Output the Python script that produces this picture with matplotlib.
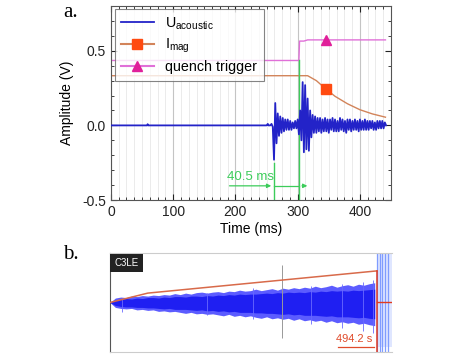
import matplotlib
matplotlib.use("Agg")
import matplotlib.pyplot as plt
from matplotlib.ticker import MultipleLocator
import numpy as np

plt.rcParams['font.family'] = ['Liberation Sans', 'DejaVu Sans']
plt.rcParams['mathtext.fontset'] = 'custom'
plt.rcParams['mathtext.rm'] = 'Liberation Sans'
plt.rcParams['mathtext.it'] = 'Liberation Sans'

''' panel a data '''
t_quiet = [0, 58, 59, 60, 250, 252, 253, 254]
u_quiet = [0.0, 0.0, 0.008, 0.0, 0.0, 0.01, 0.0, 0.0]
t_burst = np.arange(256, 444, 2)
u_burst = [0.0, 0.01, -0.01, -0.23, 0.15, -0.12, 0.08, -0.07, 0.06, -0.05,
           0.05, -0.04, 0.04, -0.03, 0.04, -0.03, 0.03, -0.03, 0.02, -0.02,
           0.03, -0.02, 0.04, -0.06, 0.10, -0.10, 0.29, -0.18, 0.27, -0.16,
           0.18, -0.17, 0.10, -0.08, 0.07, -0.05, 0.06, -0.05, 0.05, -0.04,
           0.05, -0.05, 0.04, -0.04, 0.05, -0.04, 0.04, -0.05, 0.04, -0.03,
           0.05, -0.04, 0.04, -0.04, 0.03, -0.04, 0.05, -0.03, 0.04, -0.04,
           0.03, -0.05, 0.04, -0.03, 0.04, -0.04, 0.03, -0.03, 0.04, -0.03,
           0.03, -0.04, 0.04, -0.03, 0.03, -0.03, 0.04, -0.03, 0.03, -0.03,
           0.03, -0.02, 0.03, -0.03, 0.02, -0.03, 0.03, -0.02, 0.03, -0.02,
           0.03, -0.02, 0.02, 0.0]
t_acoustic = np.concatenate([t_quiet, t_burst])
u_acoustic = np.concatenate([u_quiet, u_burst])

# magnet current (scaled)
t_mag = [0, 316, 330, 345, 360, 380, 400, 420, 441]
i_mag = [0.333, 0.333, 0.30, 0.245, 0.195, 0.145, 0.105, 0.077, 0.055]

# quench trigger
t_trig = [0, 302, 303, 310, 316, 441]
v_trig = [0.435, 0.435, 0.565, 0.565, 0.573, 0.573]

marker_t = 345
t_det, t_trg = 262, 302.5       # 40.5 ms detection window

''' panel b data '''
t_b = np.arange(0, 500, 10)     # s
env_hi = [0.0, 0.05, 0.07, 0.08, 0.07, 0.09, 0.08, 0.10, 0.10, 0.09,
          0.11, 0.10, 0.12, 0.12, 0.11, 0.13, 0.13, 0.12, 0.14, 0.13,
          0.15, 0.14, 0.16, 0.15, 0.17, 0.16, 0.17, 0.17, 0.18, 0.19,
          0.18, 0.20, 0.19, 0.21, 0.20, 0.21, 0.20, 0.22, 0.21, 0.23,
          0.22, 0.24, 0.23, 0.24, 0.23, 0.25, 0.24, 0.25, 0.26, 0.27]
env_lo = [0.0, -0.06, -0.08, -0.09, -0.09, -0.10, -0.10, -0.11, -0.11, -0.12,
          -0.13, -0.12, -0.14, -0.14, -0.14, -0.15, -0.16, -0.15, -0.17, -0.16,
          -0.18, -0.17, -0.19, -0.18, -0.20, -0.20, -0.20, -0.21, -0.21, -0.22,
          -0.22, -0.23, -0.24, -0.23, -0.25, -0.24, -0.26, -0.26, -0.26, -0.27,
          -0.28, -0.27, -0.29, -0.29, -0.29, -0.30, -0.31, -0.30, -0.32, -0.33]
fringe_hi = [0.0, 0.09, 0.11, 0.10, 0.13, 0.12, 0.14, 0.13, 0.15, 0.14,
             0.16, 0.15, 0.18, 0.16, 0.19, 0.17, 0.20, 0.21, 0.19, 0.21,
             0.22, 0.20, 0.23, 0.22, 0.25, 0.23, 0.24, 0.27, 0.24, 0.26,
             0.28, 0.25, 0.29, 0.27, 0.30, 0.28, 0.31, 0.29, 0.33, 0.30,
             0.32, 0.35, 0.31, 0.34, 0.36, 0.33, 0.37, 0.35, 0.38, 0.40]
fringe_lo = [0.0, -0.10, -0.12, -0.13, -0.12, -0.15, -0.14, -0.16, -0.15, -0.18,
             -0.17, -0.19, -0.18, -0.20, -0.22, -0.20, -0.23, -0.22, -0.24, -0.23,
             -0.25, -0.27, -0.24, -0.28, -0.26, -0.29, -0.27, -0.30, -0.32, -0.29,
             -0.33, -0.31, -0.34, -0.32, -0.36, -0.33, -0.37, -0.35, -0.38, -0.36,
             -0.40, -0.37, -0.41, -0.39, -0.42, -0.40, -0.44, -0.42, -0.45, -0.47]
spk_t = [22, 180, 265, 372, 430, 468, 486]
spk_hi = [0.10, 0.20, 0.30, 0.34, 0.38, 0.42, 0.45]
spk_lo = [-0.20, -0.26, -0.34, -0.44, -0.52, -0.58, -0.62]
ramp_t = [0, 70, 494.2]
ramp_v = [0.0, 0.19, 0.64]
quench_b = 494.2
after_t = [495, 499, 503, 509, 515]

fig = plt.figure(figsize=(4.74, 3.54), dpi=100)

# ---------------- panel a ----------------
ax = fig.add_axes([0.234, 0.435, 0.591, 0.548])
ax.plot(t_acoustic, u_acoustic, color='#2323c8', lw=1.3, label=r'U$_{\mathrm{acoustic}}$', zorder=3)
ax.plot(t_mag, i_mag, color='#d2845a', lw=1.0, zorder=2)
ax.plot(t_trig, v_trig, color='#e070d8', lw=1.0, zorder=2)
ax.plot([marker_t], [np.interp(marker_t, t_mag, i_mag)], 's', color='#ff4a10', ms=7, zorder=4)
ax.plot([marker_t], [np.interp(marker_t, t_trig, v_trig)], '^', color='#e0209a', ms=7, zorder=4)

# legend proxies
ax.plot([], [], color='#d2845a', marker='s', mfc='#ff4a10', mec='#ff4a10', ms=7, label=r'I$_{\mathrm{mag}}$')
ax.plot([], [], color='#e070d8', marker='^', mfc='#e0209a', mec='#e0209a', ms=7, label='quench trigger')

green = '#3ccc5a'
ax.plot([t_det, t_det], [-0.5, -0.25], color=green, lw=1.0, zorder=2)
ax.plot([t_trg, t_trg], [-0.5, 0.435], color=green, lw=1.0, zorder=2)
ax.annotate('', xy=(t_det, -0.405), xytext=(186, -0.405),
            arrowprops=dict(arrowstyle='-|>', color=green, lw=0.9, mutation_scale=6))
ax.annotate('', xy=(320, -0.405), xytext=(t_trg, -0.405),
            arrowprops=dict(arrowstyle='-|>', color=green, lw=0.9, mutation_scale=6))
ax.plot([t_det, t_trg], [-0.405, -0.405], color=green, lw=0.9)
ax.text(225, -0.345, '40.5 ms', color=green, fontsize=9.5, ha='center', va='center')

ax.set_xlim(0, 450)
ax.set_ylim(-0.5, 0.8)
ax.xaxis.set_major_locator(MultipleLocator(100))
ax.xaxis.set_minor_locator(MultipleLocator(12.5))
ax.yaxis.set_minor_locator(MultipleLocator(0.1))
ax.set_yticks([-0.5, 0.0, 0.5])
ax.set_yticklabels(['-0.5', '0.0', '0.5'])
ax.tick_params(which='both', direction='in', top=True, right=True, labelsize=10, colors='#222222')
ax.tick_params(which='major', length=4)
ax.tick_params(which='minor', length=2)
ax.grid(True, which='major', axis='x', color='#c4c4c4', lw=0.8, zorder=0)
ax.grid(True, which='minor', axis='x', color='#e8e8e8', lw=0.6, zorder=0)
for s in ax.spines.values():
    s.set_color('#555555')
ax.set_xlabel('Time (ms)', fontsize=10, labelpad=2)
ax.set_ylabel('Amplitude (V)', fontsize=10, labelpad=6)
leg = ax.legend(loc='upper left', fontsize=10.3, frameon=True, fancybox=False,
                edgecolor='#666666', borderpad=0.45, handlelength=2.3, labelspacing=0.35,
                borderaxespad=0, bbox_to_anchor=(0.013, 0.985))
leg.get_frame().set_linewidth(0.8)
leg.set_zorder(5)

fig.text(0.133, 0.965, 'a.', family='Liberation Serif', fontsize=15, ha='left', va='center')

# ---------------- panel b ----------------
bx = fig.add_axes([0.232, 0.006, 0.595, 0.279])
bx.set_xlim(0, 522)
bx.set_ylim(-1, 1)
bx.fill_between(t_b, fringe_lo, fringe_hi, color='#5c5cff', lw=0, zorder=2)
bx.fill_between(t_b, env_lo, env_hi, color='#1f1ff2', lw=0, zorder=2)
bx.vlines(spk_t, spk_lo, spk_hi, color='#6a6aff', lw=0.6, zorder=2)
bx.fill_between([quench_b, 522], [-0.9, -0.9], [1, 1], color='#dfe6ff', lw=0, zorder=1)
bx.vlines(after_t, -1, 1, color='#7f9cff', lw=0.9, zorder=2)
bx.vlines([318], -0.72, 0.76, color='#999999', lw=0.7, zorder=3)
bx.plot(ramp_t, ramp_v, color='#d86a4a', lw=1.1, zorder=3)
bx.plot([quench_b, quench_b], [-1, ramp_v[-1]], color='#e03a20', lw=1.1, zorder=3)
bx.plot([quench_b, 522], [0.0, 0.0], color='#e03a20', lw=1.0, zorder=3)
bx.text(452, -0.74, '494.2 s', color='#e04a2a', fontsize=8, ha='center', va='center')
bx.plot([422, 488], [-0.9, -0.9], color='#e04a2a', lw=0.9)
bx.text(31, 0.8, 'C3LE', color='white', fontsize=7, ha='center', va='center',
        bbox=dict(boxstyle='square,pad=0.45', fc='#222222', ec='none'))
bx.set_xticks([])
bx.set_yticks([])
bx.spines['left'].set_color('#555555')
bx.spines['top'].set_color('#cccccc')
bx.spines['bottom'].set_color('#cccccc')
bx.spines['right'].set_visible(False)

fig.text(0.133, 0.28, 'b.', family='Liberation Serif', fontsize=15, ha='left', va='center')

fig.savefig('out.png', dpi=100)
